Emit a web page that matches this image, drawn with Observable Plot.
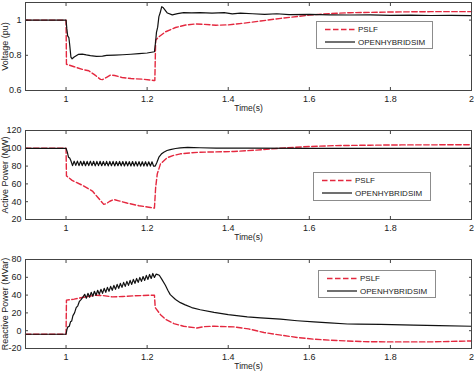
<!DOCTYPE html>
<html>
<head>
<meta charset="utf-8">
<script src="https://cdn.jsdelivr.net/npm/d3@7"></script>
<script src="https://cdn.jsdelivr.net/npm/@observablehq/plot@0.6"></script>
<style>
  html, body { margin: 0; padding: 0; background: #fff; }
  #wrap { position: relative; width: 474px; height: 371px; overflow: hidden; font-family: "Liberation Sans", Arial, sans-serif; }
  .panel { position: absolute; left: 0; }
  .legend { position: absolute; background: #fff; border: 1px solid #8c8c8c; box-sizing: border-box; }
</style>
</head>
<body>
<div id="wrap"></div>
<script>
// ---------- axis ticks ----------
const xTicks = [1, 1.2, 1.4, 1.6, 1.8, 2];
const voltTicks = [0.6, 0.8, 1];
const activeTicks = [20, 40, 60, 80, 100, 120];
const reactiveTicks = [-20, 0, 20, 40, 60, 80];
const seriesNames = ["PSLF", "OPENHYBRIDSIM"];

// ---------- Voltage (pu) ----------
const voltPslfT = [0.9, 1.0, 1.001, 1.02, 1.04, 1.056, 1.07, 1.085, 1.09, 1.1, 1.11, 1.12, 1.138, 1.16, 1.19, 1.216, 1.219, 1.221, 1.229, 1.245, 1.27, 1.295, 1.32, 1.34, 1.37, 1.4, 1.44, 1.48, 1.53, 1.6, 1.65, 1.7, 1.8, 1.9, 2.0];
const voltPslf  = [1.0, 1.0, 0.749, 0.735, 0.72, 0.712, 0.69, 0.663, 0.662, 0.675, 0.688, 0.685, 0.674, 0.668, 0.664, 0.657, 0.657, 0.886, 0.905, 0.933, 0.958, 0.972, 0.978, 0.976, 0.971, 0.973, 0.983, 0.995, 1.01, 1.028, 1.037, 1.042, 1.046, 1.048, 1.048];
const voltOhsT = [0.9, 1.0, 1.002, 1.004, 1.007, 1.009, 1.012, 1.015, 1.02, 1.03, 1.04, 1.05, 1.06, 1.075, 1.09, 1.1, 1.12, 1.14, 1.16, 1.18, 1.2, 1.218, 1.221, 1.223, 1.226, 1.229, 1.232, 1.236, 1.24, 1.25, 1.262, 1.275, 1.29, 1.31, 1.33, 1.36, 1.39, 1.41, 1.43, 1.46, 1.49, 1.52, 1.55, 1.6, 1.65, 1.7, 1.75, 1.8, 1.85, 1.9, 1.95, 2.0];
const voltOhs  = [1.0, 1.0, 0.95, 0.91, 0.9, 0.86, 0.79, 0.78, 0.79, 0.805, 0.807, 0.802, 0.798, 0.794, 0.795, 0.8, 0.801, 0.803, 0.806, 0.81, 0.813, 0.82, 0.88, 0.93, 0.96, 1.02, 1.04, 1.076, 1.07, 1.04, 1.03, 1.037, 1.042, 1.041, 1.043, 1.04, 1.042, 1.035, 1.04, 1.036, 1.033, 1.036, 1.031, 1.032, 1.03, 1.029, 1.03, 1.027, 1.028, 1.026, 1.027, 1.025];

// ---------- Active Power (MW) ----------
const activePslfT = [0.9, 1.0, 1.001, 1.015, 1.04, 1.065, 1.078, 1.093, 1.1, 1.108, 1.118, 1.13, 1.15, 1.18, 1.208, 1.218, 1.221, 1.225, 1.233, 1.249, 1.265, 1.282, 1.31, 1.331, 1.414, 1.47, 1.539, 1.6, 1.662, 1.75, 1.827, 2.0];
const activePslf  = [100, 100, 69, 64, 58.5, 52, 45, 37, 38, 40.5, 42.5, 41, 38.5, 35.5, 33.5, 32.8, 56, 71.3, 82.6, 89.3, 92, 93.8, 95, 95.6, 96.4, 98, 100.5, 102, 103, 103.5, 103.8, 104];
const activeOhsT = [0.9, 1.0, 1.003, 1.006, 1.009, 1.012,
  1.016, 1.020, 1.024, 1.028, 1.032, 1.036, 1.040, 1.044, 1.048, 1.052, 1.056, 1.060, 1.064, 1.068, 1.072, 1.076, 1.080,
  1.084, 1.088, 1.092, 1.096, 1.100, 1.104, 1.108, 1.112, 1.116, 1.120, 1.124, 1.128, 1.132, 1.136, 1.140, 1.144, 1.148,
  1.152, 1.156, 1.160, 1.164, 1.168, 1.172, 1.176, 1.180, 1.184, 1.188, 1.192, 1.196, 1.200, 1.204, 1.208, 1.212, 1.216,
  1.220, 1.224, 1.229, 1.235, 1.241, 1.249, 1.257, 1.27, 1.282, 1.3, 1.33, 1.37, 1.45, 1.6, 1.8, 2.0];
const activeOhs = [100, 100, 96, 90, 89, 86,
  80.5, 85.5, 80.8, 85.6, 80.5, 85.4, 80.6, 85.5, 80.4, 85.3, 80.6, 85.5, 80.5, 85.4, 80.3, 85.3, 80.5,
  85.4, 80.4, 85.2, 80.5, 85.3, 80.3, 85.2, 80.4, 85.3, 80.2, 85.1, 80.4, 85.2, 80.3, 85.1, 80.2, 85.2, 80.3,
  85.0, 80.2, 85.1, 80.1, 85.0, 80.2, 85.0, 80.0, 84.9, 80.1, 84.9, 80.0, 84.8, 80.0, 84.8, 79.9,
  80, 84, 90, 93.5, 95.6, 97.5, 98.5, 99.8, 100.5, 101, 100.6, 100.3, 100.1, 100, 100, 100];

// ---------- Reactive Power (MVar) ----------
const reactivePslfT = [0.9, 1.0, 1.001, 1.02, 1.048, 1.072, 1.09, 1.114, 1.14, 1.17, 1.19, 1.218, 1.22, 1.233, 1.245, 1.266, 1.29, 1.323, 1.34, 1.365, 1.414, 1.45, 1.488, 1.53, 1.57, 1.61, 1.652, 1.735, 1.8, 1.9, 2.0];
const reactivePslf  = [-4, -4, 34.3, 35.5, 38, 39.9, 39.5, 38, 38.5, 39.2, 39.5, 40, 26, 18, 13, 8, 5, 3, 4.5, 5, 4.3, 2, -2, -5, -7.6, -9.5, -10.7, -12.3, -12.6, -12.6, -11.5];
const reactiveOhsT = [0.9, 1.0, 1.002, 1.004, 1.008, 1.011, 1.014, 1.017, 1.021, 1.025, 1.029, 1.033, 1.037, 1.041,
  1.046, 1.050, 1.054, 1.058, 1.062, 1.066, 1.070, 1.074, 1.078, 1.082, 1.086, 1.090, 1.094, 1.098, 1.102, 1.106,
  1.110, 1.114, 1.118, 1.122, 1.126, 1.130, 1.134, 1.138, 1.142, 1.146, 1.150, 1.154, 1.158, 1.162, 1.166, 1.170,
  1.174, 1.178, 1.182, 1.186, 1.190, 1.194, 1.198, 1.202, 1.206, 1.210, 1.214, 1.218, 1.222,
  1.226, 1.23, 1.236, 1.245, 1.251, 1.257, 1.27, 1.282, 1.294, 1.31, 1.331, 1.365, 1.4, 1.447, 1.48, 1.529, 1.57, 1.611, 1.65, 1.694, 1.72, 1.776, 1.858, 1.92, 2.0];
const reactiveOhs = [-4, -4, 1, 4, 5, 10, 11, 17, 20, 26, 28, 33, 35, 37.5,
  40.9, 36.5, 42.0, 37.6, 43.1, 38.7, 44.3, 39.8, 45.4, 40.9, 46.5, 42.0, 47.6, 43.1, 48.7, 44.3,
  49.8, 45.4, 50.9, 46.5, 52.0, 47.6, 53.1, 48.7, 54.3, 49.8, 55.4, 50.9, 56.5, 52.0, 57.6, 53.2,
  58.7, 54.3, 59.8, 55.4, 60.9, 56.5, 62.1, 57.6, 63.2, 58.7, 64.3, 59.8, 63.5,
  63, 62.3, 58, 51, 45.5, 40.5, 35, 31.5, 29, 26, 23.5, 20.5, 18, 15.5, 14.5, 12.9, 11.2, 9.9, 8.8, 7.5, 7.3, 7, 6.2, 5.6, 5];

// ---------- styling ----------
const RED = "#e4283f";
const BLACK = "#111";
const rows = (T, V) => T.map((t, i) => ({t, v: V[i]}));

function panel({height, marginTop, marginBottom, yDomain, yTicks, yLabel, pslf, ohs, labelDy}) {
  return Plot.plot({
    width: 474, height, marginLeft: 25, marginRight: 3, marginTop, marginBottom,
    style: {fontFamily: "'Liberation Sans', Arial, sans-serif", fontSize: "9px", background: "transparent", color: "#222", overflow: "visible"},
    x: {domain: [0.9, 2]},
    y: {domain: yDomain},
    marks: [
      Plot.axisX(xTicks, {anchor: "bottom", tickSize: -3, tickPadding: 8, tickFormat: d => String(d), label: null, stroke: "#444"}),
      Plot.axisX(xTicks, {anchor: "top", tickSize: -3, tickFormat: () => "", label: null, stroke: "#444"}),
      Plot.axisY(yTicks, {anchor: "left", tickSize: -3, tickPadding: 7, tickFormat: d => String(d), label: null, stroke: "#444"}),
      Plot.axisY(yTicks, {anchor: "right", tickSize: -3, tickFormat: () => "", label: null, stroke: "#444"}),
      Plot.line(rows(pslf[0], pslf[1]), {x: "t", y: "v", stroke: RED, strokeWidth: 1.4, strokeDasharray: "5.5,2.5", curve: "linear"}),
      Plot.line(rows(ohs[0], ohs[1]), {x: "t", y: "v", stroke: BLACK, strokeWidth: 1.2, curve: "linear"}),
      Plot.frame({stroke: "#444", strokeWidth: 1}),
      Plot.text(["Time(s)"], {frameAnchor: "bottom", textAnchor: "middle", lineAnchor: "middle", dy: labelDy, fontSize: 8.5, fill: "#222"}),
      Plot.text([yLabel], {frameAnchor: "left", textAnchor: "middle", lineAnchor: "middle", rotate: -90, dx: -20, fontSize: 9, fill: "#222"})
    ]
  });
}

const wrap = document.getElementById("wrap");

const specs = [
  {top: 0, height: 120, marginTop: 2, marginBottom: 30, yDomain: [0.6, 1.1], yTicks: voltTicks, yLabel: "Voltage (pu)",
   pslf: [voltPslfT, voltPslf], ohs: [voltOhsT, voltOhs], labelDy: 18,
   legend: {left: 316, top: 21, width: 117, height: 28}},
  {top: 120, height: 125, marginTop: 10, marginBottom: 26, yDomain: [20, 120], yTicks: activeTicks, yLabel: "Active Power (MW)",
   pslf: [activePslfT, activePslf], ohs: [activeOhsT, activeOhs], labelDy: 18,
   legend: {left: 313, top: 172, width: 118, height: 29}},
  {top: 245, height: 126, marginTop: 14, marginBottom: 23, yDomain: [-20, 80], yTicks: reactiveTicks, yLabel: "Reactive Power (MVar)",
   pslf: [reactivePslfT, reactivePslf], ohs: [reactiveOhsT, reactiveOhs], labelDy: 18,
   legend: {left: 318, top: 270, width: 118, height: 28}}
];

for (const s of specs) {
  const svg = panel(s);
  svg.classList.add("panel");
  svg.style.top = s.top + "px";
  wrap.appendChild(svg);

  const lg = document.createElement("div");
  lg.className = "legend";
  Object.assign(lg.style, {left: s.legend.left + "px", top: s.legend.top + "px", width: s.legend.width + "px", height: s.legend.height + "px"});
  const ns = "http://www.w3.org/2000/svg";
  const ls = document.createElementNS(ns, "svg");
  ls.setAttribute("width", s.legend.width - 2);
  ls.setAttribute("height", s.legend.height - 2);
  ls.style.display = "block";
  const rowsY = [7.5, 20];
  seriesNames.forEach((name, i) => {
    const ln = document.createElementNS(ns, "line");
    ln.setAttribute("x1", 8); ln.setAttribute("x2", 38);
    ln.setAttribute("y1", rowsY[i]); ln.setAttribute("y2", rowsY[i]);
    ln.setAttribute("stroke", i === 0 ? RED : BLACK);
    ln.setAttribute("stroke-width", i === 0 ? 1.4 : 1.2);
    if (i === 0) ln.setAttribute("stroke-dasharray", "5.5,2.5");
    ls.appendChild(ln);
    const tx = document.createElementNS(ns, "text");
    tx.setAttribute("x", 41); tx.setAttribute("y", rowsY[i]);
    tx.setAttribute("dy", "0.35em");
    tx.setAttribute("font-size", "8");
    tx.setAttribute("font-family", "'Liberation Sans', Arial, sans-serif");
    tx.setAttribute("fill", "#222");
    tx.textContent = name;
    ls.appendChild(tx);
  });
  lg.appendChild(ls);
  wrap.appendChild(lg);
}
</script>
</body>
</html>
